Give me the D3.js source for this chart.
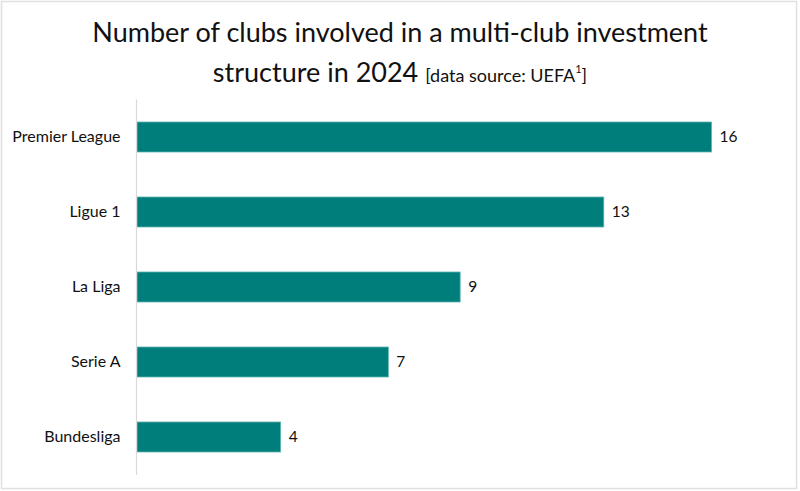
<!DOCTYPE html>
<html><head><meta charset="utf-8">
<script src="https://cdn.jsdelivr.net/npm/d3@7"></script>
<style>body{margin:0;background:#fff;} svg{display:block;}</style>
</head><body>
<svg id="c" width="800" height="491"></svg>
<script>
const leagues = ["Premier League", "Ligue 1", "La Liga", "Serie A", "Bundesliga"];
const clubs = [16, 13, 9, 7, 4];
const titleLine1 = "Number of clubs involved in a multi-club investment";
const titleLine2 = "structure in 2024";
const sourceNote = "[data source: UEFA";
const sourceSup = "1";

const svg = d3.select("#c");
const font = "Lato, 'Open Sans', sans-serif";

svg.append("rect").attr("x", 1.5).attr("y", 1.5).attr("width", 795).attr("height", 487)
  .attr("fill", "#fff").attr("stroke", "#e0e0e0").attr("stroke-width", 1.5);

const x = d3.scaleLinear().domain([0, 16]).range([137, 711.5]);
const y = d3.scaleBand().domain(leagues).range([99.5, 474.5]).paddingInner(0.6).paddingOuter(0.3);

svg.append("text").attr("x", 400).attr("y", 41.5).attr("text-anchor", "middle")
  .attr("font-family", font).attr("font-size", 27).attr("fill", "#111").text(titleLine1);
const t2 = svg.append("text").attr("x", 400).attr("y", 82).attr("text-anchor", "middle")
  .attr("font-family", font).attr("font-size", 27).attr("fill", "#111");
t2.append("tspan").text(titleLine2 + " ");
t2.append("tspan").attr("font-size", 18).text(sourceNote);
t2.append("tspan").attr("font-size", 11).attr("dy", -9).text(sourceSup);
t2.append("tspan").attr("font-size", 18).attr("dy", 9).text("]");

svg.selectAll("rect.bar").data(leagues).join("rect").attr("class", "bar")
  .attr("x", x(0)).attr("y", d => y(d))
  .attr("width", (d, i) => x(clubs[i]) - x(0)).attr("height", y.bandwidth())
  .attr("fill", "#007e7b").attr("stroke", "#5fb3b0").attr("stroke-width", 0.8);

const axis = svg.append("g").attr("transform", `translate(${x(0) - 0.5},0)`)
  .call(d3.axisLeft(y).tickSize(0).tickPadding(16));
axis.select(".domain").attr("stroke", "#d9d9d9").attr("stroke-width", 1.2)
  .attr("d", "M0,99.5V475");
axis.selectAll("text").attr("font-family", font).attr("font-size", 16).attr("fill", "#111");

svg.selectAll("text.val").data(leagues).join("text").attr("class", "val")
  .attr("x", (d, i) => x(clubs[i]) + 8).attr("y", d => y(d) + y.bandwidth() / 2)
  .attr("dy", "0.35em").attr("font-family", font).attr("font-size", 15.5).attr("fill", "#111")
  .text((d, i) => clubs[i]);
</script>
</body></html>
